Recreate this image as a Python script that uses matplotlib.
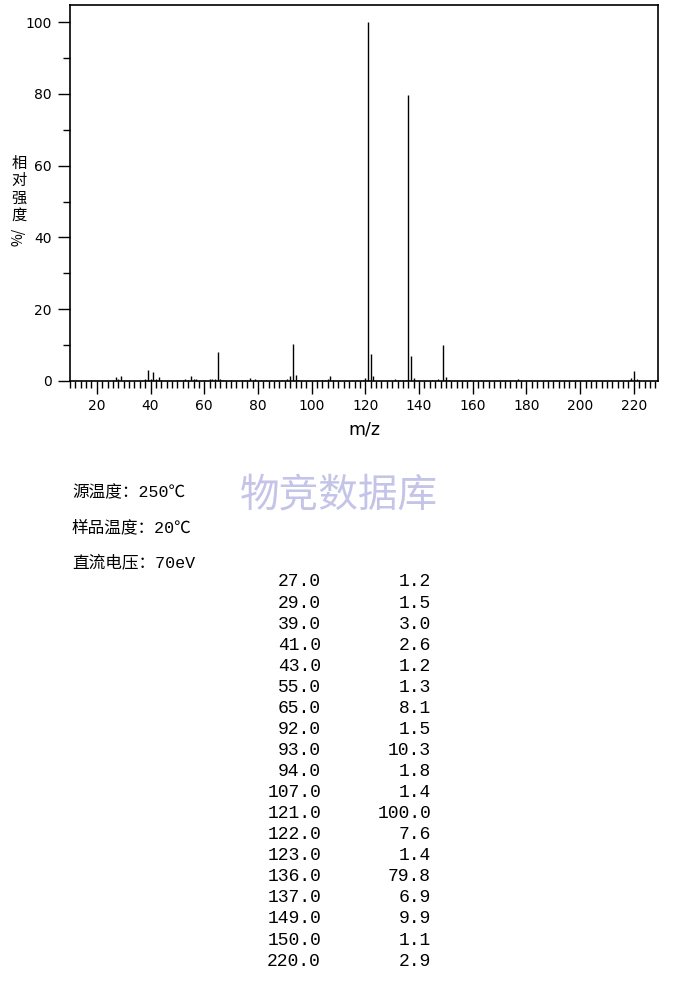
import matplotlib
matplotlib.use('Agg')
import matplotlib.pyplot as plt
import numpy as np

# listed peaks (m/z, relative intensity %)
mz_listed = [27, 29, 39, 41, 43, 55, 65, 92, 93, 94, 107, 121, 122, 123, 136, 137, 149, 150, 220]
int_listed = [1.2, 1.5, 3.0, 2.6, 1.2, 1.3, 8.1, 1.5, 10.3, 1.8, 1.4, 100.0, 7.6, 1.4, 79.8, 6.9, 9.9, 1.1, 2.9]

# small unlisted peaks (estimates)
mz_minor = [18, 26, 28, 38, 40, 42, 44, 50, 51, 52, 53, 54, 56, 57, 60, 62, 63, 64, 66, 67,
            70, 74, 75, 76, 77, 78, 79, 81, 83, 85, 87, 89, 91, 95, 102, 104, 105, 106, 108,
            115, 117, 119, 120, 131, 132, 133, 134, 135, 138, 145, 147, 151, 159, 163, 177,
            191, 203, 219, 221, 222]
int_minor = [0.4, 0.3, 0.5, 0.5, 0.5, 0.6, 0.3, 0.3, 0.4, 0.4, 0.5, 0.3, 0.5, 0.6, 0.3, 0.5, 0.5, 0.6, 0.6, 0.3,
             0.3, 0.3, 0.4, 0.4, 0.8, 0.3, 0.5, 0.3, 0.3, 0.3, 0.3, 0.4, 0.6, 0.3, 0.3, 0.4, 0.3, 0.5, 0.3,
             0.3, 0.3, 0.4, 0.8, 0.5, 0.4, 0.4, 0.3, 0.4, 0.8, 0.4, 0.5, 0.4, 0.3, 0.3, 0.6,
             0.4, 0.3, 0.7, 0.5, 0.3]

conditions = ['源温度：250℃', '样品温度：20℃', '直流电压：70eV']

cjk = ['Noto Sans CJK SC', 'DejaVu Sans']
mixed = ['Liberation Mono', 'Noto Sans CJK SC', 'DejaVu Sans']

fig = plt.figure(figsize=(6.8, 9.92), dpi=100)
ax = fig.add_axes([70/680, 1 - 381/992, (658 - 70)/680, (381 - 5)/992])

ax.vlines(mz_minor, 0, int_minor, color='black', linewidth=1)
ax.vlines(mz_listed, 0, int_listed, color='black', linewidth=1)

ax.set_xlim(10, 229)
ax.set_ylim(0, 104.8)

ax.set_xticks(np.arange(20, 221, 20))
ax.set_xticks(np.arange(10, 229, 2), minor=True)
ax.set_yticks(np.arange(0, 101, 20))
ax.set_yticks(np.arange(10, 101, 20), minor=True)
ax.tick_params(axis='both', which='major', direction='out', length=9, width=1, labelsize=10, pad=4)
ax.tick_params(axis='both', which='minor', direction='out', length=5, width=1)
for s in ax.spines.values():
    s.set_linewidth(1.2)

fig.text(364/680, 1 - 430/992, 'm/z', ha='center', va='center', fontsize=12.5)

# stacked y label
ylab_chars = ['相', '对', '强', '度']
for i, ch in enumerate(ylab_chars):
    fig.text(19/680, 1 - (163 + i*17.5)/992, ch, ha='center', va='center',
             fontsize=11, family=cjk)
fig.text(19/680, 1 - 237/992, '%/', ha='center', va='center', rotation=90,
         fontsize=10, family=cjk)

# watermark
fig.text(339/680, 1 - 495/992, '物竞数据库', ha='center', va='center',
         fontsize=28.5, color='#c4c4e8', family=cjk)

for i, line in enumerate(conditions):
    fig.text(72/680, 1 - (492 + i*35)/992, line, ha='left', va='center',
             fontsize=12, family=mixed)

for i, (m, v) in enumerate(zip(mz_listed, int_listed)):
    y = 1 - (582 + i*21.06)/992
    fig.text(321/680, y, '%.1f' % m, ha='right', va='center', fontsize=13,
             family='Liberation Mono')
    fig.text(431/680, y, '%.1f' % v, ha='right', va='center', fontsize=13,
             family='Liberation Mono')

fig.savefig('out.png', dpi=100)
